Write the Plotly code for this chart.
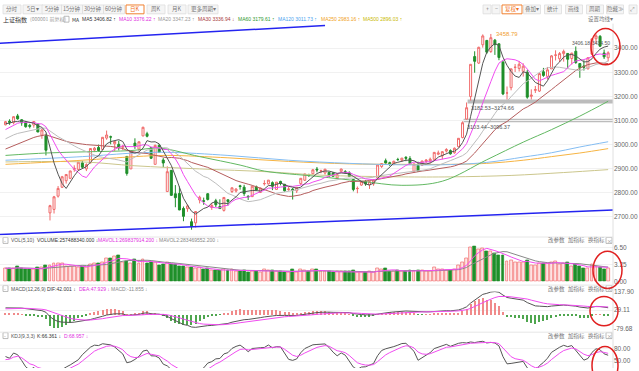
import plotly.graph_objects as go
from plotly.subplots import make_subplots
import pandas as pd
import numpy as np

# ---------------- data (SSE Composite, daily, 2020-01-09 .. 2020-08-21) ----------------
opens = [3082,3097,3091,3119,3103,3093,3080,3081,3085,3039,3037,
         2716.7,2731,2786,2823,2850,2860,2897,2897,2924,2899,
         2924,2977,2988,2980,3027,3032,3003,3001,2989,2951,
         2899,3006,2981,3036,3045,2987,2918,2997,2936,2805,
         2893,2796,2797,2735,2734,2680,2675,2770,2767,2796,2739,2767,
         2743,2727,2771,2805,2807,2829,2823,2786,2784,2825,2801,
         2837,2837,2842,2814,2847,2835,2813,2815,2808,2838,
         2852,2874,2879,2898,2889,2882,2885,2882,2862,2889,2888,2883,2855,2817,2832,2847,2833,2837,
         2862,2909,2933,2925,2919,2938,2935,2947,2942,2889,2914,2914,2930,2932,2939,2960,2953,2973,2975,2966,
         2991,3029,3106,3199,3365,3338,3414,3432,3386,3433,3418,3342,3214,3236,3320,3316,3304,3300,3200,3225,3222,3302,3283,
         3314,3370,3356,3377,3378,3357,3387,3336,3326,3314,3375,3439,3449,3380,3360]
highs = [3098,3105,3118,3127.17,3105,3098,3086,3096,3086,3066,3045,
         2750,2787,2828,2870,2877,2891,2914,2928,2933,2922,
         2984,2990,3000,3031,3058,3037,3014,3016,2999,2951,
         2973,3026,3012,3074,3053,2989,3000,3002,2944,2910,
         2894,2832,2826,2743,2751,2693,2723,2788,2780,2798,2758,2775,
         2773,2781,2771,2821,2819,2833,2833,2789,2828,2830,2821,
         2852,2853,2847,2845,2850,2837,2825,2820,2823,2861,
         2879,2879,2899,2907,2896,2898.5,2885,2886,2880,2900,2894,2889,2856,2826,2847,2852,2849,2854,
         2916,2922,2942,2929,2933,2945,2944,2952,2952,2920,2929,2933,2940,2946,2969,2975,2971,2985,2980,2988,
         3027,3096.37,3174.66,3333,3387,3406,3456.97,3434,3458.79,3438,3419,3348,3241,3314.5,3334,3347,3337,3309,3229,3243,3295,3318,3322,
         3371,3391,3384,3394,3379,3381,3407,3337,3350,3362,3440,3458,3454,3394,3387]
lows = [3080,3082,3084,3103,3078,3070,3067,3070,3052,3024,2955,
        2685.27,2714,2780,2820,2838,2857,2887,2891,2901,2890,
        2922,2969,2974,2979,3020,3001,2973,2976,2977,2871,
        2899,2982,2974,3034,3030,2940,2918,2968,2906,2804,
        2787,2740,2728,2682,2721,2646.81,2656,2756,2750,2768,2729,2741,
        2734,2722,2747,2799,2801,2813,2787,2770,2784,2808,2801,
        2830,2834,2811,2814,2831,2804,2808,2772,2799,2832,
        2849,2866,2876,2885,2881,2875,2865,2866,2857,2884,2878,2867,2806,2798,2829,2829,2816,2829,
        2862,2903,2921,2911,2914,2932,2928,2931,2917,2883,2888,2913,2923,2922,2933,2956,2939,2967,2958,2962,
        2989,3026,3103.44,3182.53,3298,3334,3402,3376,3380,3372,3350,3205,3187,3225,3301,3303,3282,3190,3187,3214,3218,3281,3270,
        3314,3349,3342,3344,3316,3332,3335,3277,3307,3312,3372,3417,3405,3355,3345]
closes = [3094.88,3092.29,3115.57,3106.82,3090.04,3074.08,3075.50,3095.79,3052.14,3060.75,2976.53,
          2746.61,2783.29,2818.09,2866.51,2875.96,2890.49,2901.67,2926.90,2906.07,2917.01,
          2983.62,2984.97,2975.40,3030.15,3039.67,3031.23,3013.05,2987.93,2991.33,2880.30,
          2970.93,2992.90,3011.67,3071.68,3034.51,2943.29,2996.76,2968.52,2923.49,2887.43,
          2789.25,2779.64,2728.76,2702.13,2745.62,2660.17,2722.44,2781.59,2764.91,2772.20,2747.21,2750.30,
          2734.52,2780.64,2763.99,2820.76,2815.37,2825.90,2796.63,2783.05,2827.28,2811.17,2819.94,
          2838.49,2852.55,2827.01,2843.98,2838.50,2808.53,2815.49,2810.02,2822.44,2860.08,
          2878.14,2871.52,2895.34,2894.80,2891.56,2898.05,2870.34,2868.46,2875.42,2898.58,2883.74,2867.92,2813.77,2817.97,2846.55,2836.80,2846.22,2852.35,
          2915.43,2921.40,2923.37,2919.25,2930.80,2937.77,2943.75,2943.32,2920.90,2919.74,2890.03,2931.75,2935.87,2939.32,2967.63,2965.27,2970.62,2979.55,2961.52,2984.67,
          3025.98,3090.57,3152.81,3332.88,3345.34,3403.44,3450.59,3383.32,3443.29,3414.62,3361.30,3210.10,3214.13,3314.15,3320.90,3333.16,3325.11,3196.77,3205.23,3227.96,3294.55,3286.82,3310.01,
          3367.97,3371.69,3377.56,3386.46,3354.04,3379.25,3340.29,3319.27,3320.73,3360.10,3438.80,3451.09,3408.13,3363.90,3380.68]
# volume, 1e8
volumes = [2.6,2.5,2.6,2.9,2.5,2.3,2.3,2.4,2.7,2.7,3.1,
           3.2,3.6,3.5,3.5,3.0,2.9,2.9,2.8,3.0,2.8,
           3.4,3.5,3.5,3.8,4.4,4.4,4.8,5.0,3.8,4.0,
           3.6,4.3,3.5,4.3,3.6,3.8,3.7,3.1,3.3,3.7,
           3.4,3.4,3.0,3.0,2.7,2.7,2.6,2.8,2.4,2.5,2.2,2.1,
           2.1,2.3,2.1,2.4,2.0,2.0,2.2,1.8,2.0,2.0,1.8,
           2.4,2.1,2.1,2.0,1.9,1.8,1.8,2.3,1.8,2.3,
           2.2,1.9,2.3,2.4,2.0,1.9,1.9,1.8,1.9,2.0,1.9,1.9,2.1,1.8,1.8,1.8,2.0,1.8,
           2.6,2.3,2.5,2.0,2.0,2.1,2.0,2.0,2.1,2.0,2.1,2.1,1.9,2.0,2.7,2.4,2.3,2.2,2.2,2.3,
           3.1,3.8,4.4,6.7,6.9,6.3,6.4,5.8,5.9,5.5,5.0,5.1,4.0,4.2,3.8,3.7,3.7,4.2,3.2,3.2,3.5,3.6,3.6,
           3.8,3.9,3.3,3.6,3.7,2.9,3.3,2.9,2.6,2.5,3.3,3.0,2.7,2.3,2.57]
# closes before the first candle (for the short averages / MACD)
hist_closes = [2906.17,2903.19,2889.69,2871.98,2875.81,2884.70,2878.12,2899.47,2912.01,
               2914.48,2917.32,2924.42,2915.70,2967.68,2984.39,3022.42,3017.04,3017.07,3004.94,
               2962.75,2982.68,2981.88,3007.35,3005.04,3040.02,3050.12,3085.20,3083.79,
               3083.41,3104.80,3066.89]
# long moving averages (candle index, value)
ma60_i = [0,10,20,31,38,48,58,64,77,88,98,108,119,128,135,142,149]
ma60_v = [2955,2965,2970,2975,2985,2950,2915,2890,2868,2848,2831,2848,2937,3010,3062,3118,3179.61]
ma120_i = [0,19,32,40,55,70,85,98,110,119,128,135,142,149]
ma120_v = [2935,2950,2965,2968,2955,2935,2922,2916,2917,2926,2948,2966,2990,3011.73]
ma250_i = [0,19,32,40,55,70,85,98,110,119,128,135,142,149]
ma250_v = [2918,2935,2950,2955,2945,2930,2920,2918,2918,2922,2935,2950,2965,2983.16]
ma500_i = [0,19,32,48,65,78,98,110,125,138,149]
ma500_v = [2928,2928,2912,2899,2887,2873,2866,2866,2872,2884,2896.03]
# hand-drawn trend lines (index, price)
trend_up_i = [-1.36, 79.0]
trend_up_v = [3420, 3494]
trend_lo_i = [-1.36, 150.2]
trend_lo_v = [2626.7, 2728.4]
# unfilled gaps: after candle index, low, high
gap_after = [113, 114]
gap_low = [3096.37, 3174.66]
gap_high = [3103.44, 3182.53]

N = len(closes)
idx = list(range(N))

# ---------------- indicators ----------------
allc = pd.Series(hist_closes + closes)
H0 = len(hist_closes)
def ma(n):
    return allc.rolling(n, min_periods=1).mean().iloc[H0:].tolist()
ma5, ma10, ma20, ma30 = ma(5), ma(10), ma(20), ma(30)
ema12 = allc.ewm(span=12, adjust=False).mean()
ema26 = allc.ewm(span=26, adjust=False).mean()
dif_s = ema12 - ema26
dea_s = dif_s.ewm(span=9, adjust=False).mean()
dif = dif_s.iloc[H0:].tolist()
dea = dea_s.iloc[H0:].tolist()
macd = (2 * (dif_s - dea_s)).iloc[H0:].tolist()
vs = pd.Series(volumes)
mavol1 = vs.rolling(5, min_periods=1).mean().tolist()
mavol2 = vs.rolling(10, min_periods=1).mean().tolist()
cs, hs, ls = pd.Series(closes), pd.Series(highs), pd.Series(lows)
l9 = ls.rolling(9, min_periods=1).min()
h9 = hs.rolling(9, min_periods=1).max()
rsv = ((cs - l9) / (h9 - l9) * 100).tolist()
K, D = [], []
k, d = 50.0, 50.0
for r in rsv:
    k = 2 / 3 * k + r / 3
    d = 2 / 3 * d + k / 3
    K.append(k); D.append(d)

up = [c >= o for o, c in zip(opens, closes)]

# ---------------- figure ----------------
W, Hh, PW = 639, 371, 613
FONT = "Noto Sans CJK SC"
UPC, DNC = "#f06a6a", "#1f8f2a"

def ydom(top, bot):
    return [max(0, 1 - bot / Hh), 1 - top / Hh]

fig = make_subplots(rows=4, cols=1, shared_xaxes=True)

fig.add_trace(go.Candlestick(x=idx, open=opens, high=highs, low=lows, close=closes,
                             increasing=dict(line=dict(color=UPC, width=1), fillcolor="#ffffff"),
                             decreasing=dict(line=dict(color=DNC, width=1), fillcolor=DNC),
                             whiskerwidth=0, showlegend=False), row=1, col=1)

def line(x, y, color, row, width=1, shape="linear"):
    fig.add_trace(go.Scatter(x=x, y=y, mode="lines", line=dict(color=color, width=width, shape=shape),
                             hoverinfo="skip", showlegend=False), row=row, col=1)

line(ma500_i, ma500_v, "#cbc68c", 1, shape="spline")
line(ma250_i, ma250_v, "#f6b443", 1, shape="spline")
line(ma120_i, ma120_v, "#84bdf2", 1, shape="spline")
line(ma60_i, ma60_v, "#62b862", 1, shape="spline")
line(idx, ma30, "#b55d5d", 1)
line(idx, ma20, "#bdbdbd", 1)
line(idx, ma10, "#f04cf0", 1)
line(idx, ma5, "#555555", 1)
line(trend_up_i, trend_up_v, "#2424f0", 1, width=1.5)
line(trend_lo_i, trend_lo_v, "#2424f0", 1, width=1.5)

# volume
fig.add_trace(go.Bar(x=idx, y=volumes, width=0.72,
                     marker=dict(color=["#fde3e3" if u else DNC for u in up],
                                 line=dict(color=[UPC if u else DNC for u in up], width=0.7)),
                     showlegend=False, hoverinfo="skip"), row=2, col=1)
line(idx, mavol2, "#888888", 2)
line(idx, mavol1, "#f04cf0", 2)

# MACD
fig.add_trace(go.Bar(x=idx, y=macd, width=0.28,
                     marker=dict(color=["#f08a8a" if m >= 0 else "#4fa64f" for m in macd], line=dict(width=0)),
                     showlegend=False, hoverinfo="skip"), row=3, col=1)
line(idx, dif, "#555555", 3)
line(idx, dea, "#f04cf0", 3)

# KDJ
line(idx, K, "#555555", 4)
line(idx, D, "#f04cf0", 4)

fig.update_xaxes(range=[-1.36, 150.2], visible=False, showgrid=False, rangeslider_visible=False)

axfont = dict(size=6.5, color="#666666", family="Liberation Sans")
common = dict(side="right", showline=False, zeroline=False, ticks="", tickfont=axfont,
              gridcolor="#f1f1f1", showgrid=True)
main_ticks = [2700, 2800, 2900, 3000, 3100, 3200, 3300, 3400]
fig.update_yaxes(domain=ydom(20, 236), range=[2622.6, 3501.7], tickvals=main_ticks,
                 ticktext=[f"{t:.2f}" for t in main_ticks], row=1, col=1, **common)
fig.update_yaxes(domain=ydom(246, 283), range=[0, 7.0], tickvals=[0, 3.25, 6.5],
                 ticktext=["0.00", "3.25", "6.50"], row=2, col=1, **common)
fig.update_yaxes(domain=ydom(293, 331), range=[-80.5, 138.7], tickvals=[-79.68, 29.11, 137.90],
                 ticktext=["-79.68", "29.11", "137.90"], row=3, col=1, **common)
fig.update_yaxes(domain=ydom(342, 371), range=[34, 100.8], tickvals=[50, 80],
                 ticktext=["50.00", "80.00"], row=4, col=1, **common)

shapes = []
anns = []

def px(xp, yp):
    return xp / PW, 1 - yp / Hh

def txt(xp, yp, s, color="#555555", size=6, anchor="left", family=FONT):
    x, y = px(xp, yp)
    anns.append(dict(x=x, y=y, xref="paper", yref="paper", text=s, showarrow=False,
                     xanchor=anchor, yanchor="middle", borderpad=0,
                     font=dict(size=size, color=color, family=family)))

def box(x0, y0, x1, y1, line="#dddddd", fill="#f5f5f5", width=0.8):
    a, b = px(x0, y0); c, d = px(x1, y1)
    shapes.append(dict(type="rect", xref="paper", yref="paper", x0=a, y0=b, x1=c, y1=d,
                       line=dict(color=line, width=width), fillcolor=fill, layer="below"))

# gap zones
for g, lo, hi in zip(gap_after, gap_low, gap_high):
    shapes.append(dict(type="rect", xref="x", yref="y", x0=g + 0.5, x1=152, y0=lo, y1=hi,
                       fillcolor="#bcbcbc", line=dict(color="#bcbcbc", width=2), layer="below"))
    anns.append(dict(x=g + 0.6, y=lo, xref="x", yref="y", text=f"{hi:.2f}~{lo:.2f}", showarrow=False,
                     xanchor="left", yanchor="top", yshift=-1,
                     font=dict(size=5.5, color="#555555", family="Liberation Sans")))
# highest price label
hi_i = int(np.argmax(highs))
anns.append(dict(x=hi_i + 0.8, y=highs[hi_i], xref="x", yref="y", text=f"{highs[hi_i]:.2f}",
                 showarrow=False, xanchor="left", yanchor="middle",
                 font=dict(size=6, color="#f0a030", family="Liberation Sans")))

# toolbar row 1
for lab, cx, w in [("分时", 12, 18), ("5日▾", 33, 20), ("5分钟", 52, 20), ("15分钟", 72, 21),
                   ("30分钟", 93, 21), ("60分钟", 114, 21), ("周K", 156, 18), ("月K", 177, 18),
                   ("更多周期▾", 203, 30)]:
    box(cx - w / 2, 1, cx + w / 2, 10)
    txt(cx, 5.5, lab, "#777777", 5.5, "center")
box(126, 1, 144, 10, line="#f08030", fill="#ffffff", width=1)
txt(135, 5.5, "日K", "#f07020", 5.5, "center")
for lab, cx, w in [("+", 487, 8), ("−", 496, 8), ("叠加▾", 532, 17), ("统计", 553, 17),
                   ("画线", 574, 17), ("周期", 595, 17), ("隐藏≫", 615, 17), ("⤢", 633, 8)]:
    box(cx - w / 2, 1, cx + w / 2, 10)
    txt(cx, 5.5, lab, "#777777", 5.5, "center")
box(502, 1, 522, 10, line="#f08030", fill="#ffffff", width=1)
txt(512, 5.5, "复权▾", "#f07020", 5.5, "center")

# MA header row
txt(2, 15.5, "上证指数", "#333333", 6)
txt(29, 15.5, "(000001 前复权)", "#999999", 5)
box(64, 12.5, 69, 18.5, line="#aaaaaa", fill="#ffffff")
txt(71, 15.5, "MA", "#333333", 5)
for s, x0, c in [("MA5 3406.82 ↑", 81, "#333333"), ("MA10 3376.22 ↑", 118, "#e030e0"),
                 ("MA20 3347.23 ↑", 157, "#999999"), ("MA30 3336.94 ↓", 197, "#a83a3a"),
                 ("MA60 3179.61 ↑", 237, "#2f9a2f"), ("MA120 3011.73 ↑", 277, "#4aa3f0"),
                 ("MA250 2983.16 ↑", 320, "#f0a020"), ("MA500 2896.03 ↑", 362, "#c8b800")]:
    txt(x0, 15.5, s, c, 5, family="Liberation Sans")
txt(587, 15.5, "设置均线▾", "#777777", 5.5)

# extra price labels near the last candles
txt(571, 40, "3406.18", "#555555", 5, family="Liberation Sans")
txt(611, 40, "3434.50", "#555555", 5, "right", family="Liberation Sans")

# panel headers
def panel_header(y, items):
    box(3, y - 3, 8, y + 3, line="#aaaaaa", fill="#ffffff")
    txt(5.5, y, "-", "#777777", 5, "center")
    for s, x0, c in items:
        txt(x0, y, s, c, 5, family="Liberation Sans")
    for s, x0 in [("改参数", 547), ("加指标", 567), ("换指标", 587)]:
        txt(x0, y, s, "#777777", 5.5)
    box(606, y - 3, 612, y + 3, line="#aaaaaa", fill="#ffffff")
    txt(609, y, "×", "#777777", 5, "center")

panel_header(241, [("VOL(5,10)", 10, "#555555"), ("VOLUME:257488340.000 ↓", 36, "#333333"),
                   ("MAVOL1:269837914.200 ↓", 97, "#e030e0"), ("MAVOL2:283469552.200 ↓", 158, "#888888")])
panel_header(290, [("MACD(12,26,9)", 10, "#555555"), ("DIF:42.001 ↓", 46, "#333333"),
                   ("DEA:47.929 ↓", 78, "#e030e0"), ("MACD:-11.855 ↓", 110, "#888888")])
panel_header(338, [("KDJ(9,3,3)", 10, "#555555"), ("K:66.361 ↓", 36, "#333333"),
                   ("D:68.957 ↓", 63, "#e030e0")])

# separators
for yp in [237.5, 286.5, 334.5]:
    a, b = px(0, yp); c, _ = px(PW, yp)
    shapes.append(dict(type="line", xref="paper", yref="paper", x0=a, x1=c, y0=b, y1=b,
                       line=dict(color="#e6e6e6", width=1)))
shapes.append(dict(type="line", xref="paper", yref="paper", x0=1, x1=1, y0=0, y1=1 - 20 / Hh,
                   line=dict(color="#e0e0e0", width=1)))

# red circles
for x0, y0, x1, y1 in [(591, 25, 620, 62), (593, 252, 622, 290), (590, 298, 618, 328), (592, 349, 618, 388)]:
    a, b = px(x0, y1); c, d = px(x1, y0)
    shapes.append(dict(type="circle", xref="paper", yref="paper", x0=a, y0=b, x1=c, y1=d,
                       line=dict(color="#e02020", width=1.5), layer="above"))

fig.update_layout(width=W, height=Hh, margin=dict(l=0, r=W - PW, t=0, b=0),
                  paper_bgcolor="#ffffff", plot_bgcolor="#ffffff", showlegend=False,
                  bargap=0, shapes=shapes, annotations=anns,
                  font=dict(family=FONT, size=6))
fig.write_html("out.html")
